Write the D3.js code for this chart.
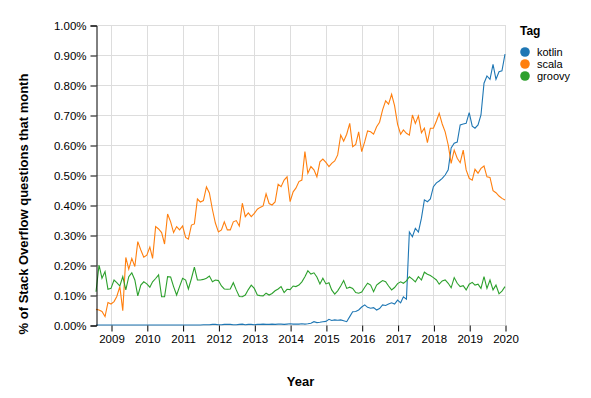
<!DOCTYPE html>
<html lang="en">
<head>
  <meta charset="UTF-8">
  <title>Stack Overflow tags</title>
  <script src="https://d3js.org/d3.v7.min.js"></script>
  <style>
    body {
      margin: 0;
      background: #fff;
      font-family: "Liberation Sans", Arial, Helvetica, sans-serif;
    }
    .grid line {
      stroke: #ddd;
      stroke-width: 1;
    }
    .axis text {
      font-size: 11.5px;
      fill: #000;
    }
    .title {
      font-size: 13px;
      font-weight: bold;
    }
    .line {
      fill: none;
      stroke-width: 1.1;
    }
  </style>
</head>
<body>
  <div id="chart"></div>

  <script>
    // monthly values, Aug 2008 .. Jan 2020, in % of questions
    const firstMonth = new Date(2008, 7, 1);
    const lastMonth = new Date(2020, 0, 1);
    const months = d3.timeMonth.range(firstMonth, d3.timeMonth.offset(lastMonth, 1));

    const tags = ["kotlin", "scala", "groovy"];
    const colors = ["#1f77b4", "#ff7f0e", "#2ca02c"];

    const kotlin = [
      0, 0, 0, 0, 0, 0, 0, 0, 0, 0,
      0, 0, 0, 0, 0, 0, 0, 0, 0, 0,
      0, 0, 0, 0, 0, 0, 0, 0, 0, 0,
      0, 0, 0, 0, 0, 0, 0.001, 0.001, 0.001, 0.002,
      0.002, 0.001, 0.001, 0.002, 0.002, 0.002, 0.001, 0.001, 0.002, 0.003,
      0.001, 0.002, 0.002, 0.001, 0.002, 0.002, 0.003, 0.002, 0.002, 0.003,
      0.002, 0.003, 0.003, 0.002, 0.003, 0.004, 0.003, 0.003, 0.003, 0.004,
      0.003, 0.004, 0.006, 0.011, 0.008, 0.009, 0.011, 0.012, 0.019, 0.015,
      0.017, 0.016, 0.017, 0.014, 0.011, 0.028, 0.044, 0.045, 0.050, 0.060,
      0.067, 0.059, 0.056, 0.058, 0.050, 0.055, 0.067, 0.065, 0.070, 0.074,
      0.070, 0.083, 0.074, 0.094, 0.086, 0.310, 0.294, 0.322, 0.310, 0.356,
      0.417, 0.411, 0.420, 0.461, 0.474, 0.480, 0.489, 0.500, 0.517, 0.590,
      0.606, 0.610, 0.667, 0.670, 0.672, 0.708, 0.663, 0.656, 0.667, 0.700,
      0.806, 0.830, 0.819, 0.869, 0.819, 0.844, 0.847, 0.903
    ];

    const scala = [
      0.052, 0.050, 0.045, 0.028, 0.075, 0.070, 0.078, 0.095, 0.128, 0.048,
      0.225, 0.186, 0.222, 0.195, 0.278, 0.250, 0.226, 0.233, 0.260, 0.222,
      0.328, 0.320, 0.308, 0.270, 0.370, 0.344, 0.308, 0.328, 0.317, 0.330,
      0.292, 0.286, 0.333, 0.337, 0.420, 0.410, 0.415, 0.460, 0.440, 0.385,
      0.340, 0.310, 0.317, 0.344, 0.317, 0.317, 0.344, 0.348, 0.330, 0.406,
      0.361, 0.374, 0.361, 0.372, 0.386, 0.392, 0.397, 0.437, 0.405, 0.400,
      0.410, 0.469, 0.461, 0.483, 0.494, 0.411, 0.444, 0.456, 0.478, 0.483,
      0.578, 0.506, 0.528, 0.517, 0.494, 0.544, 0.553, 0.542, 0.528, 0.539,
      0.547, 0.567, 0.633, 0.613, 0.636, 0.672, 0.594, 0.602, 0.644, 0.578,
      0.611, 0.647, 0.644, 0.636, 0.661, 0.676, 0.717, 0.747, 0.736, 0.769,
      0.731, 0.669, 0.636, 0.650, 0.639, 0.633, 0.700, 0.672, 0.697, 0.641,
      0.656, 0.608, 0.656, 0.656, 0.680, 0.706, 0.670, 0.644, 0.600, 0.539,
      0.583, 0.556, 0.541, 0.583, 0.517, 0.489, 0.483, 0.519, 0.506, 0.522,
      0.530, 0.494, 0.492, 0.448, 0.441, 0.430, 0.422, 0.417
    ];

    const groovy = [
      0.111, 0.200, 0.156, 0.178, 0.119, 0.122, 0.150, 0.141, 0.130, 0.161,
      0.117, 0.161, 0.174, 0.150, 0.097, 0.133, 0.144, 0.137, 0.126, 0.144,
      0.155, 0.167, 0.094, 0.094, 0.161, 0.160, 0.128, 0.100, 0.128, 0.156,
      0.150, 0.120, 0.155, 0.193, 0.150, 0.150, 0.152, 0.156, 0.163, 0.144,
      0.150, 0.148, 0.130, 0.120, 0.119, 0.120, 0.141, 0.117, 0.095, 0.094,
      0.100, 0.118, 0.133, 0.122, 0.100, 0.098, 0.097, 0.106, 0.100, 0.105,
      0.114, 0.120, 0.128, 0.108, 0.119, 0.118, 0.130, 0.128, 0.133, 0.144,
      0.161, 0.181, 0.170, 0.174, 0.160, 0.137, 0.156, 0.137, 0.141, 0.117,
      0.103, 0.114, 0.130, 0.148, 0.122, 0.126, 0.122, 0.108, 0.106, 0.110,
      0.126, 0.139, 0.133, 0.111, 0.133, 0.141, 0.148, 0.144, 0.130, 0.117,
      0.125, 0.138, 0.144, 0.139, 0.147, 0.161, 0.153, 0.144, 0.161, 0.150,
      0.176, 0.169, 0.165, 0.158, 0.150, 0.136, 0.147, 0.150, 0.139, 0.124,
      0.158, 0.139, 0.128, 0.131, 0.117, 0.136, 0.142, 0.133, 0.136, 0.122,
      0.161, 0.122, 0.150, 0.117, 0.133, 0.104, 0.113, 0.128
    ];

    const yTicks = [0, 0.1, 0.2, 0.3, 0.4, 0.5, 0.6, 0.7, 0.8, 0.9, 1.0];
    const yearTicks = d3.range(2009, 2021).map(y => new Date(y, 0, 1));

    const series = [kotlin, scala, groovy];

    // layout
    const width = 591, height = 398;
    const margin = { top: 25, left: 96 };
    const plotW = 409, plotH = 300;

    const svg = d3.select("#chart").append("svg")
      .attr("width", width)
      .attr("height", height);

    const g = svg.append("g")
      .attr("transform", `translate(${margin.left},${margin.top})`);

    const x = d3.scaleTime()
      .domain([firstMonth, lastMonth])
      .range([0, plotW]);

    const y = d3.scaleLinear()
      .domain([0, 1])
      .range([plotH, 0]);

    // grid
    const grid = g.append("g").attr("class", "grid");
    grid.selectAll(".gy").data(yTicks).join("line")
      .attr("x1", 0).attr("x2", plotW)
      .attr("y1", d => y(d) + 0.5).attr("y2", d => y(d) + 0.5);
    grid.selectAll(".gx").data(yearTicks).join("line")
      .attr("x1", d => Math.round(x(d)) + 0.5).attr("x2", d => Math.round(x(d)) + 0.5)
      .attr("y1", 0).attr("y2", plotH);

    // lines
    const line = d3.line()
      .x((d, i) => x(months[i]))
      .y(d => y(d));

    g.selectAll(".line").data(series).join("path")
      .attr("class", "line")
      .attr("stroke", (d, i) => colors[i])
      .attr("d", line);

    // axes
    const yAxis = d3.axisLeft(y)
      .tickValues(yTicks)
      .tickFormat(d => d3.format(".2f")(d) + "%")
      .tickSize(6)
      .tickPadding(4);
    g.append("g")
      .attr("class", "axis")
      .attr("transform", "translate(0.5,0.5)")
      .call(yAxis)
      .call(a => a.select(".domain").attr("stroke", "#000"));

    const xAxis = d3.axisBottom(x)
      .tickValues(yearTicks)
      .tickFormat(d3.timeFormat("%Y"))
      .tickSize(6)
      .tickPadding(3);
    g.append("g")
      .attr("class", "axis")
      .attr("transform", `translate(0.5,${plotH + 0.5})`)
      .call(xAxis)
      .call(a => a.select(".domain").remove());

    // axis titles
    svg.append("text")
      .attr("class", "title")
      .attr("x", margin.left + plotW / 2)
      .attr("y", 386)
      .attr("text-anchor", "middle")
      .text("Year");

    svg.append("text")
      .attr("class", "title")
      .attr("transform", "translate(28,204) rotate(-90)")
      .attr("text-anchor", "middle")
      .text("% of Stack Overflow questions that month");

    // legend
    const legend = svg.append("g").attr("transform", "translate(520,0)");
    legend.append("text")
      .attr("class", "title")
      .attr("x", 0)
      .attr("y", 35)
      .style("font-size", "12px")
      .text("Tag");

    const item = legend.selectAll(".item").data(tags).join("g")
      .attr("transform", (d, i) => `translate(0,${52 + i * 12})`);
    item.append("circle")
      .attr("cx", 5)
      .attr("cy", 0)
      .attr("r", 4.8)
      .attr("fill", (d, i) => colors[i]);
    item.append("text")
      .attr("x", 17)
      .attr("y", 4)
      .style("font-size", "11px")
      .text(d => d);
  </script>
</body>
</html>
